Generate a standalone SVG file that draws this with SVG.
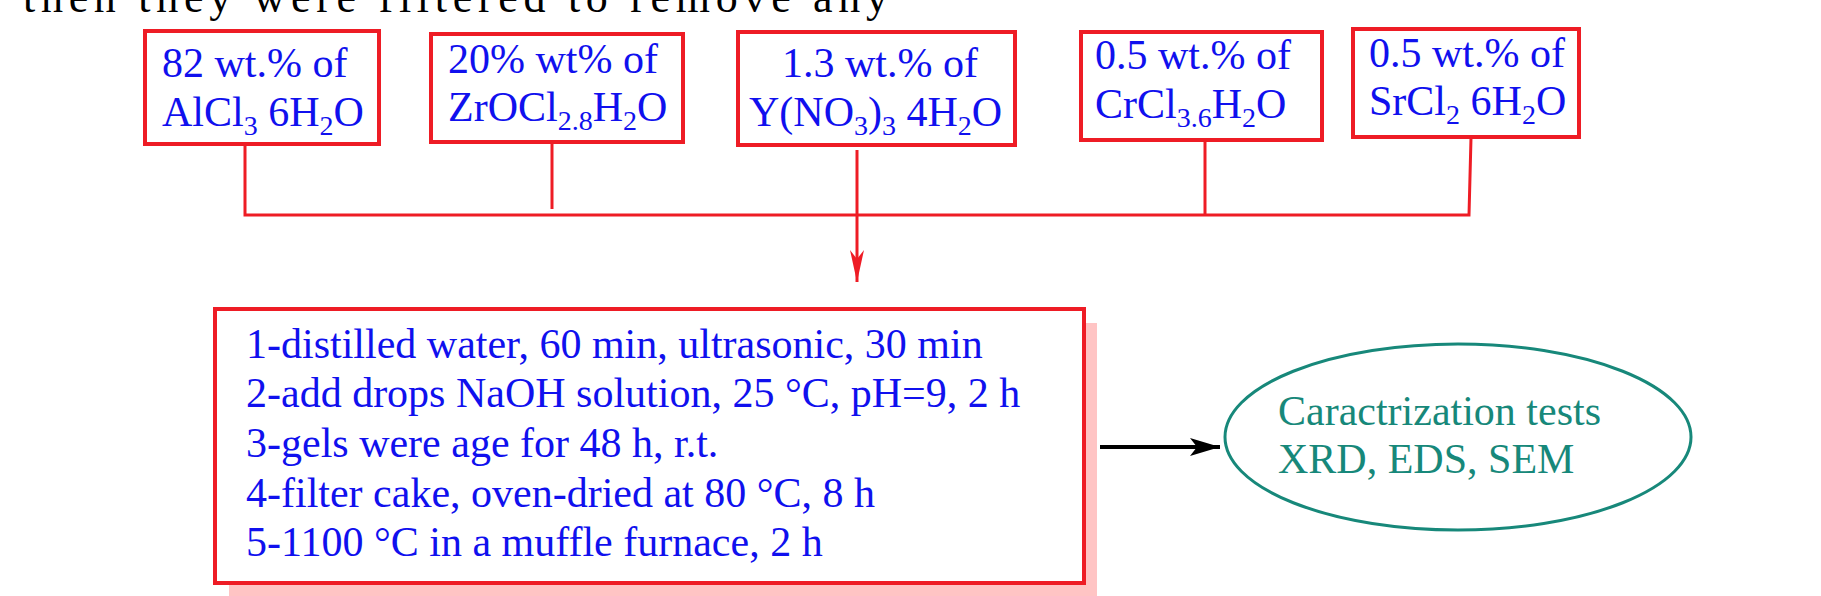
<svg xmlns="http://www.w3.org/2000/svg" width="1821" height="596" viewBox="0 0 1821 596">
<style>
.box{fill:#fff;stroke:#ee1c25;stroke-width:4}
.t{font-family:"Liberation Serif",serif;font-size:42px;fill:#1010ee}
.s{font-size:28px}
.c{stroke:#ee1c25;stroke-width:3;fill:none}
.e{font-family:"Liberation Serif",serif;font-size:42px;fill:#17887a}
</style>
<defs>
<marker id="ar" markerWidth="32" markerHeight="14" refX="32" refY="7" orient="auto" markerUnits="userSpaceOnUse" viewBox="0 0 32 14">
<path d="M0,0 L32,7 L0,14 L9,7 Z" fill="#ee1c25"/>
</marker>
<marker id="ab" markerWidth="30" markerHeight="18" refX="30" refY="9" orient="auto" markerUnits="userSpaceOnUse" viewBox="0 0 30 18">
<path d="M0,0 L30,9 L0,18 L7,9 Z" fill="#000"/>
</marker>
</defs>
<text x="23" y="12" font-family="Liberation Serif,serif" font-size="44" textLength="865">then  they  were  filtered  to  remove  any</text>
<g id="n1"><rect class="box" x="145" y="31" width="234" height="113"/>
<text class="t" x="162" y="77">82 wt.% of</text>
<text class="t" x="162" y="126">AlCl<tspan class="s" dy="9">3</tspan><tspan dy="-9"> 6H</tspan><tspan class="s" dy="9">2</tspan><tspan dy="-9">O</tspan></text></g>
<g id="n2"><rect class="box" x="431" y="34" width="252" height="108"/>
<text class="t" x="448" y="73">20% wt% of</text>
<text class="t" x="448" y="121">ZrOCl<tspan class="s" dy="9">2.8</tspan><tspan dy="-9">H</tspan><tspan class="s" dy="9">2</tspan><tspan dy="-9">O</tspan></text></g>
<g id="n3"><rect class="box" x="738" y="32" width="277" height="113"/>
<text class="t" x="782" y="77">1.3 wt.% of</text>
<text class="t" x="749" y="126">Y(NO<tspan class="s" dy="9">3</tspan><tspan dy="-9">)</tspan><tspan class="s" dy="9">3</tspan><tspan dy="-9"> 4H</tspan><tspan class="s" dy="9">2</tspan><tspan dy="-9">O</tspan></text></g>
<g id="n4"><rect class="box" x="1081" y="32" width="241" height="108"/>
<text class="t" x="1095" y="69">0.5 wt.% of</text>
<text class="t" x="1095" y="118">CrCl<tspan class="s" dy="9">3.6</tspan><tspan dy="-9">H</tspan><tspan class="s" dy="9">2</tspan><tspan dy="-9">O</tspan></text></g>
<g id="n5"><rect class="box" x="1353" y="29" width="226" height="108"/>
<text class="t" x="1369" y="67">0.5 wt.% of</text>
<text class="t" x="1369" y="115">SrCl<tspan class="s" dy="9">2</tspan><tspan dy="-9"> 6H</tspan><tspan class="s" dy="9">2</tspan><tspan dy="-9">O</tspan></text></g>
<g id="connectors">
<path class="c" d="M245,145 V215 H1469 L1471,138"/>
<path class="c" d="M552,143 V209"/>
<path class="c" d="M1205,141 V215"/>
<path class="c" d="M857,150 V282" marker-end="url(#ar)"/>
<path d="M1100,447 H1220" stroke="#000" stroke-width="4" marker-end="url(#ab)"/>
</g>
<g id="n6">
<rect x="229" y="323" width="868" height="273" fill="#ffc4c4"/>
<rect class="box" x="215" y="309" width="869" height="274"/>
<text class="t" x="246" y="358">1-distilled water, 60 min, ultrasonic, 30 min</text>
<text class="t" x="246" y="407">2-add drops NaOH solution, 25 °C, pH=9, 2 h</text>
<text class="t" x="246" y="457">3-gels were age for 48 h, r.t.</text>
<text class="t" x="246" y="507">4-filter cake, oven-dried at 80 °C, 8 h</text>
<text class="t" x="246" y="556">5-1100 °C in a muffle furnace, 2 h</text>
</g>
<g id="n7">
<ellipse cx="1458" cy="437" rx="233" ry="93" fill="#fff" stroke="#17887a" stroke-width="3"/>
<text class="e" x="1278" y="425">Caractrization tests</text>
<text class="e" x="1278" y="473">XRD, EDS, SEM</text>
</g>
</svg>
